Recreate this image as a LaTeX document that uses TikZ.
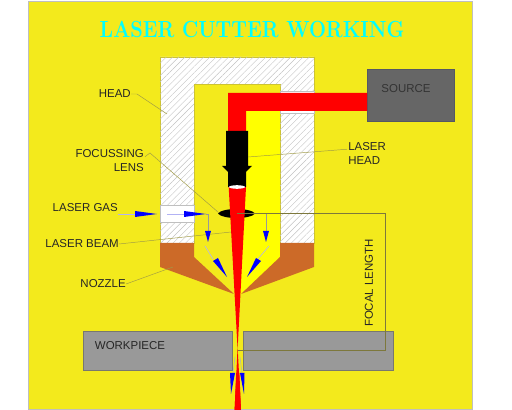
\documentclass[tikz,border=0pt]{standalone}
\usepackage{fontspec}
\setmainfont{Liberation Sans}
\newfontfamily\titlefont{Latin Modern Roman}
\usetikzlibrary{patterns.meta}
\definecolor{sheetyellow}{RGB}{243,234,28}
\definecolor{brightyellow}{RGB}{255,255,0}
\definecolor{titlecyan}{RGB}{0,255,255}
\definecolor{sheetline}{RGB}{205,195,50}
\definecolor{leadercol}{RGB}{160,155,70}
\definecolor{focalcol}{RGB}{125,120,60}
\definecolor{nozzlecol}{RGB}{204,106,40}
\definecolor{sourcecol}{RGB}{102,102,102}
\definecolor{sourceline}{RGB}{85,88,100}
\definecolor{workcol}{RGB}{153,153,153}
\definecolor{workline}{RGB}{120,120,110}
\definecolor{beamred}{RGB}{255,0,0}
\definecolor{gasblue}{RGB}{0,0,255}
\definecolor{hatchcol}{RGB}{195,195,195}
\tikzset{
  wall/.style={draw=sheetline,line width=0.6pt,fill=white,postaction={pattern={Lines[angle=45,distance=3.3pt,line width=0.3pt]},pattern color=hatchcol}},
  port/.style={draw=black!25,fill=white,line width=0.35pt},
  leader/.style={draw=leadercol,line width=0.35pt},
  gasline/.style={draw=black!15!gasblue!30!white,line width=0.45pt},
  gashead/.style={fill=gasblue,draw=none},
  label/.style={font=\fontsize{8.6}{10.5}\selectfont,inner sep=0pt,text=black!85}
}
\begin{document}
\begin{tikzpicture}[x=0.75pt,y=0.75pt,yscale=-1,xscale=1]
\useasboundingbox (0,0) rectangle (512,410);

%Shape: Sheet
\draw [draw=black!25,fill=sheetyellow,line width=0.6pt] (28,1) rectangle (472.5,409);
%Shape: Bright yellow side
\fill [brightyellow] (237,111) -- (280,111) -- (280,257) -- (241,294) -- (237,294) -- cycle;
%Shape: Head
\draw [wall] (160,57) -- (314,57) -- (314,243) -- (280,243) -- (280,84) -- (194,84) -- (194,243) -- (160,243) -- cycle;
%Shape: Gas port
\draw [port] (160,205) rectangle (194,222);
%Shape: Beam port
\draw [port] (280,91) rectangle (314,113);
%Shape: Nozzle
\fill [nozzlecol] (160,243) -- (194,243) -- (194,257) -- (234,294) -- (160,267) -- cycle;
\fill [nozzlecol] (314,243) -- (280,243) -- (280,257) -- (241,294) -- (314,267) -- cycle;
%Shape: Source
\draw [draw=sourceline,fill=sourcecol,line width=0.4pt] (367,69) rectangle (454,121);
%Shape: Workpiece
\draw [draw=workline,fill=workcol,line width=0.35pt] (83,331) rectangle (232,370);
\draw [draw=workline,fill=workcol,line width=0.35pt] (243,331) rectangle (393,370);

%Shape: Lens
\fill [black] (218,213.5) .. controls (222,207.5) and (251,207.5) .. (255,213.5) .. controls (251,219.5) and (222,219.5) .. (218,213.5) -- cycle;
%Shape: Beam
\fill [beamred] (367,93) -- (228,93) -- (228,131) -- (246,131) -- (246,111) -- (367,111) -- cycle;
\fill [beamred] (228.7,187) -- (246,187) -- (237.6,349) -- cycle;
\fill [beamred] (237.6,347) -- (241,410) -- (234.6,410) -- cycle;
%Shape: Laser head
\fill [black] (226,131) -- (248,131) -- (248,166) -- (252,166) -- (246,172) -- (246,187) -- (228,187) -- (228,172) -- (222,166) -- (226,166) -- cycle;
\fill [white] (237,187) ellipse [x radius=8, y radius=1.8];

% Text Node
\node (title) at (252,29.5) [font=\titlefont\bfseries\fontsize{17.5}{20}\selectfont,text=titlecyan,inner sep=0pt] {\scalebox{0.86}[1]{LASER CUTTER WORKING}};
\node (source) at (406,89) [label,text=black!80] {SOURCE};
\node (head) at (131,94) [label,anchor=east] {HEAD};
\node (lens) at (144,161) [label,anchor=east,align=right] {FOCUSSING\\LENS};
\node (laserhead) at (348,153.5) [label,anchor=west,align=left] {LASER\\HEAD};
\node (gas) at (118,208) [label,anchor=east] {LASER GAS};
\node (beam) at (119,244) [label,anchor=east] {LASER BEAM};
\node (nozzle) at (126,284) [label,anchor=east] {NOZZLE};
\node (workpiece) at (130,346) [label] {WORKPIECE};
\node (focal) at (369,283) [label,rotate=90] {FOCAL LENGTH};

%Straight Lines
\coordinate (headtip) at (167,114);
\coordinate (lenstip) at (218.5,212.5);
\coordinate (laserheadtip) at (248,157);
\coordinate (beamtip) at (231,232);
\coordinate (nozzletip) at (173,267);
\draw [leader] (head.east) -- (137,94) -- (headtip);
\draw [leader] (lens.north east)+(1,7) -- (150,153) -- (lenstip);
\draw [leader] (laserhead.north west)+(-1,7) -- (laserheadtip);
\draw [leader] (beam.east) -- (beamtip);
\draw [leader] (nozzle.east) -- (nozzletip);
%Focal length
\coordinate (focalstart) at (237,213);
\coordinate (focalend) at (238,350);
\draw [leader,draw=focalcol] (focalstart) -- (385,213) -- (385,350) -- (focalend);

%Gas arrows
\draw [gasline] (118,214) -- (135,214);
\fill [gashead] (135,211) -- (157,214) -- (135,217) -- cycle;
\draw [gasline] (167,214) -- (184,214);
\fill [gashead] (184,211) -- (206,214) -- (184,217) -- cycle;
\draw [gasline,draw=black!40] (206,214) -- (208,214) -- (208,231);
\fill [gashead] (205,231) -- (208,242) -- (211,231) -- cycle;
\draw [gasline,draw=black!40] (266,214) -- (266,231);
\fill [gashead] (263,231) -- (266,242) -- (269,231) -- cycle;
\draw [gasline] (205,246) -- (213,259);
\fill [gashead] (213,261) -- (218,258) -- (227,277) -- cycle;
\draw [gasline] (269,246) -- (258,259);
\fill [gashead] (256,258) -- (261,261) -- (247,277) -- cycle;
\draw [gasline,draw=black!30] (235,357) -- (233,373);
\fill [gashead] (230,373) -- (235,373) -- (231,394) -- cycle;
\draw [gasline,draw=black!30] (240,357) -- (242,373);
\fill [gashead] (240,373) -- (244.5,373) -- (244,394) -- cycle;
\fill [beamred] (236.2,373) -- (239.4,373) -- (241,410) -- (234.6,410) -- cycle;

\end{tikzpicture}
\end{document}
